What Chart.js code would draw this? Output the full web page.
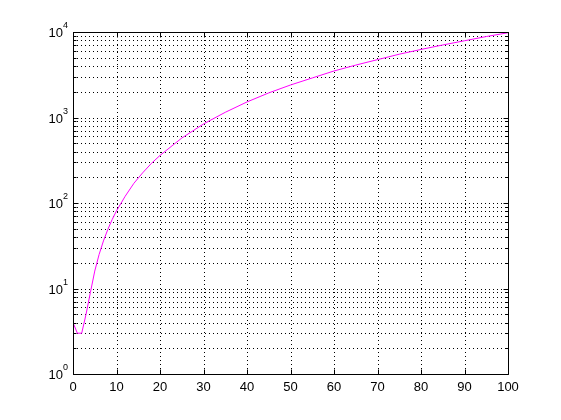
<!DOCTYPE html>
<html>
<head>
<meta charset="utf-8">
<script src="https://cdn.jsdelivr.net/npm/chart.js@4.4.0/dist/chart.umd.min.js"></script>
<style>
  html, body { margin: 0; padding: 0; background: #fff; }
  #wrap { width: 561px; height: 420px; position: relative; }
</style>
</head>
<body>
<div id="wrap"><canvas id="chart"></canvas></div>
<script>
// values
const xValues = [0, 1, 2, 3, 4, 5, 6, 7, 8, 9, 10, 12, 14, 16, 18, 20, 25, 30, 35, 40, 45, 50, 55, 60, 65, 70, 75, 80, 85, 90, 95, 100];
const yValues = [4, 3, 3, 5, 9, 16, 25, 36, 49, 64, 81, 120, 170, 225, 290, 360, 575, 840, 1150, 1520, 1940, 2400, 2900, 3500, 4100, 4750, 5500, 6250, 7050, 7900, 8850, 9800];
const xTicks = [0, 10, 20, 30, 40, 50, 60, 70, 80, 90, 100];
const yExponents = [0, 1, 2, 3, 4];
const yMinorSteps = [2, 3, 4, 5, 6, 7, 8, 9];

const FONT = '13px "Liberation Sans", Arial, sans-serif';
const SUP_FONT = '9px "Liberation Sans", Arial, sans-serif';

// grid, ticks, box and labels drawn MATLAB style
const matlabAxes = {
  id: 'matlabAxes',
  beforeDatasetsDraw(chart) {
    const { ctx, chartArea: a, scales: { x, y } } = chart;
    ctx.save();
    ctx.strokeStyle = '#000';
    ctx.lineWidth = 1;
    ctx.setLineDash([1, 3]);
    ctx.beginPath();
    xTicks.forEach(t => {
      const px = Math.round(x.getPixelForValue(t)) + 0.5;
      ctx.moveTo(px, a.top);
      ctx.lineTo(px, a.bottom);
    });
    yExponents.forEach(e => {
      [1].concat(e < 4 ? yMinorSteps : []).forEach(m => {
        const py = Math.round(y.getPixelForValue(m * Math.pow(10, e))) + 0.5;
        ctx.moveTo(a.left, py);
        ctx.lineTo(a.right, py);
      });
    });
    ctx.stroke();
    ctx.restore();
  },
  afterDatasetsDraw(chart) {
    const { ctx, chartArea: a, scales: { x, y } } = chart;
    const L = Math.round(a.left) + 0.5, R = Math.round(a.right) + 0.5;
    const T = Math.round(a.top) + 0.5, B = Math.round(a.bottom) + 0.5;
    ctx.save();
    ctx.strokeStyle = '#000';
    ctx.lineWidth = 1;
    ctx.setLineDash([]);
    ctx.beginPath();
    ctx.rect(L, T, R - L, B - T);
    // x ticks, bottom and top, inward
    xTicks.forEach(t => {
      const px = Math.round(x.getPixelForValue(t)) + 0.5;
      ctx.moveTo(px, B); ctx.lineTo(px, B - 5);
      ctx.moveTo(px, T); ctx.lineTo(px, T + 5);
    });
    // y ticks, left and right, inward
    yExponents.forEach(e => {
      [1].concat(e < 4 ? yMinorSteps : []).forEach(m => {
        const py = Math.round(y.getPixelForValue(m * Math.pow(10, e))) + 0.5;
        const len = m === 1 ? 5 : 3;
        ctx.moveTo(L, py); ctx.lineTo(L + len, py);
        ctx.moveTo(R, py); ctx.lineTo(R - len, py);
      });
    });
    ctx.stroke();

    // labels
    ctx.fillStyle = '#000';
    ctx.font = FONT;
    ctx.textAlign = 'center';
    ctx.textBaseline = 'alphabetic';
    xTicks.forEach(t => {
      ctx.fillText(String(t), x.getPixelForValue(t), a.bottom + 17);
    });
    yExponents.forEach(e => {
      const py = y.getPixelForValue(Math.pow(10, e));
      ctx.font = SUP_FONT;
      const ew = ctx.measureText(String(e)).width;
      ctx.textAlign = 'right';
      ctx.fillText(String(e), a.left - 5, py - 4);
      ctx.font = FONT;
      ctx.fillText('10', a.left - 5 - ew, py + 5);
    });
    ctx.restore();
  }
};

new Chart(document.getElementById('chart'), {
  type: 'line',
  data: {
    datasets: [{
      data: xValues.map((v, i) => ({ x: v, y: yValues[i] })),
      borderColor: '#ff00ff',
      borderWidth: 1,
      pointRadius: 0,
      tension: 0,
      fill: false
    }]
  },
  options: {
    responsive: true,
    maintainAspectRatio: false,
    animation: false,
    devicePixelRatio: 1,
    layout: { padding: { left: 73, top: 32, right: 53, bottom: 46 } },
    plugins: { legend: { display: false }, tooltip: { enabled: false } },
    scales: {
      x: {
        type: 'linear', min: 0, max: 100,
        ticks: { display: false },
        grid: { display: false, drawTicks: false },
        border: { display: false }
      },
      y: {
        type: 'logarithmic', min: 1, max: 10000,
        ticks: { display: false },
        grid: { display: false, drawTicks: false },
        border: { display: false }
      }
    }
  },
  plugins: [matlabAxes]
});
</script>
</body>
</html>
